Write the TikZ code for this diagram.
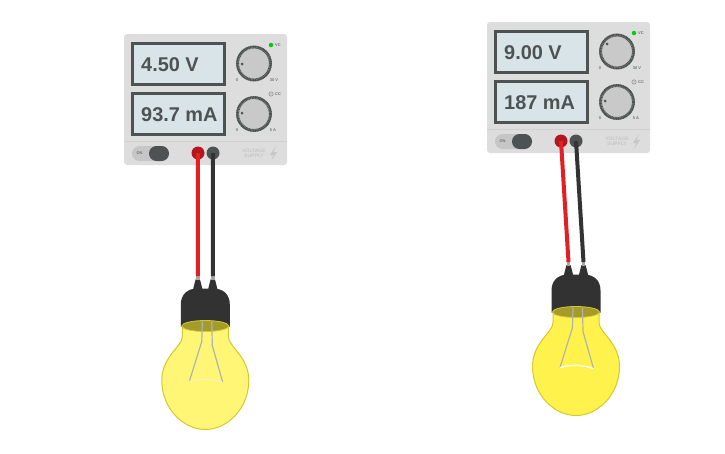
\documentclass[tikz,border=0pt]{standalone}
\usepackage{fontspec}
\setmainfont{Liberation Sans}
\pgfdeclarelayer{edgelayer}
\pgfdeclarelayer{nodelayer}
\pgfsetlayers{nodelayer,edgelayer,main}
\definecolor{panel}{HTML}{DDDDDD}
\definecolor{panelline}{HTML}{D0D0D0}
\definecolor{lcd}{HTML}{D9E4E8}
\definecolor{slate}{HTML}{4D5352}
\definecolor{faint}{HTML}{C6C6C6}
\definecolor{knobgrey}{HTML}{C9C9C9}
\definecolor{wirered}{HTML}{E02026}
\definecolor{wireblack}{HTML}{333333}
\definecolor{termred}{HTML}{B3161B}
\definecolor{socket}{HTML}{323232}
\definecolor{neck}{HTML}{A39C2A}
\definecolor{glassline}{HTML}{D8C62E}
\definecolor{glowlow}{HTML}{FFF676}
\definecolor{glowhigh}{HTML}{FFF24D}
\definecolor{arclow}{HTML}{FBF3B0}
\tikzstyle{none}=[inner sep=0pt]
\tikzstyle{display}=[draw=slate,fill=lcd,line width=3pt,inner sep=0pt,minimum width=92pt,minimum height=41pt]
\tikzstyle{reading}=[inner sep=0pt,anchor=base west,text=slate,font=\fontsize{19.9}{20}\selectfont\bfseries]
\tikzstyle{knob}=[circle,inner sep=0pt,minimum size=33pt,fill=knobgrey,preaction={draw=slate,line width=1.8pt,solid},draw=slate,line width=3pt,dash pattern=on 1.1pt off 0.5pt]
\tikzstyle{knobdot}=[circle,inner sep=0pt,minimum size=3pt,fill=slate]
\tikzstyle{tiny}=[inner sep=0pt,text=slate!80,font=\fontsize{4}{4}\selectfont\bfseries]
\tikzstyle{faded}=[inner sep=0pt,align=center,text=faint,font=\fontsize{5}{5.2}\selectfont\bfseries]
\tikzstyle{terminal}=[circle,inner sep=0pt,minimum size=13pt]
\tikzstyle{tip}=[fill=gray!70,inner sep=0pt,minimum width=3.5pt,minimum height=3.5pt]
\tikzstyle{wire}=[line width=4pt]

% #1 suffix, #2 #3 corner, #4 volts, #5 amps, #6 #7 dots
\newcommand{\supply}[7]{
	\begin{scope}[shift={(#2,#3)}]
		\fill [panel,rounded corners=3pt] (0,0) rectangle (163,131);
		\draw [panelline] (0,107) -- (163,107);
		\node [style=display] (dispv#1) at (54.5,30) {};
		\node [style=display] (dispa#1) at (54.5,80) {};
		\node [style=reading] (readv#1) at (17,37) {#4};
		\node [style=reading] (reada#1) at (17,87) {#5};
		\node [style=knob] (knobv#1) at (130,29.5) {};
		\node [style=knob] (knoba#1) at (130,80) {};
		\node [style=knobdot] (dotv#1) at #6 {};
		\node [style=knobdot] (dota#1) at #7 {};
		\node [circle,fill=green!80!black,inner sep=0pt,minimum size=4.5pt] (ledv#1) at (147,11) {};
		\node [circle,fill=knobgrey,draw=gray,line width=0.3pt,inner sep=0pt,minimum size=4.5pt] (leda#1) at (147,60) {};
		\node [style=tiny] (vc#1) at (154,11) {VC};
		\node [style=tiny] (cc#1) at (154,60) {CC};
		\node [style=tiny] (minv#1) at (113,46) {0};
		\node [style=tiny] (maxv#1) at (150,46) {30 V};
		\node [style=tiny] (mina#1) at (113,96) {0};
		\node [style=tiny] (maxa#1) at (149,96) {5 A};
		\node [fill=faint,rounded corners=7.4pt,inner sep=0pt,minimum width=37pt,minimum height=15pt] (pill#1) at (26.5,119.5) {};
		\node [fill=slate,rounded corners=7.4pt,inner sep=0pt,minimum width=20pt,minimum height=15pt] (knobon#1) at (35,119.5) {};
		\node [style=tiny] (on#1) at (15.5,119.5) {ON};
		\node [style=terminal,fill=termred] (red#1) at (74,119) {};
		\node [style=terminal,fill=slate] (black#1) at (89,119) {};
		\node [style=faded] (label#1) at (130,119) {VOLTAGE\\SUPPLY};
		\fill [faint] (152,112) -- (146,121) -- (149.5,121) -- (147,127) -- (153,118) -- (149.5,118) -- cycle;
	\end{scope}
}

% #1 suffix, #2 #3 top of the prongs, #4 glass, #5 arc
\newcommand{\lamp}[5]{
	\begin{scope}[shift={(#2,#3)}]
		\draw [fill=#4,draw=glassline,line width=1pt] (-23,46) -- (-23,58) .. controls (-23,68) and (-43.5,78) .. (-43.5,102) .. controls (-43.5,130) and (-22,151) .. (0,151) .. controls (22,151) and (43.5,130) .. (43.5,102) .. controls (43.5,78) and (23,68) .. (23,58) -- (23,46) -- cycle;
		\fill [socket] (-24.5,48) -- (-24.5,26) .. controls (-24.5,16) and (-18,10) .. (-8,10) -- (-12,10) -- (-10.5,4) -- (-9.5,0.5) -- (-5.5,0.5) -- (-4.5,4) -- (-3,10) -- (3,10) -- (4.5,4) -- (5.5,0.5) -- (9.5,0.5) -- (10.5,4) -- (12,10) -- (8,10) .. controls (18,10) and (24.5,16) .. (24.5,26) -- (24.5,48) -- cycle;
		\node [style=tip] (tipr#1) at (-7.5,-0.5) {};
		\node [style=tip] (tipb#1) at (7.5,-0.5) {};
		\draw [fill=neck,draw=glassline,line width=0.8pt] (0,47.5) ellipse [x radius=23.5pt,y radius=5.5pt];
		\draw [gray!60,line width=1.2pt] (-3,43) -- (-3.5,63) -- (-16,103);
		\draw [gray!60,line width=1.2pt] (6.5,43) -- (7,67) -- (17.5,104);
		\draw [#5,line width=1.3pt] (-16,103) .. controls (-6,100) and (6,100) .. (17.5,104);
	\end{scope}
}

\begin{document}
\begin{tikzpicture}[x=1pt,y=-1pt]
	\useasboundingbox (0,0) rectangle (725,453);
	\begin{pgfonlayer}{nodelayer}
		\supply{one}{124}{34}{4.50 V}{93.7 mA}{(118,30)}{(118,79)}
		\supply{two}{487}{22}{9.00 V}{187 mA}{(120,22)}{(118,79)}
		\lamp{one}{205.3}{278.5}{glowlow}{arclow}
		\lamp{two}{576}{264.5}{glowhigh}{white}
	\end{pgfonlayer}
	\begin{pgfonlayer}{edgelayer}
		\draw [style=wire,wirered] (redone.center) -- (tiprone.north);
		\draw [style=wire,wireblack] (blackone.center) -- (tipbone.north);
		\draw [style=wire,wirered] (redtwo.center) -- (tiprtwo.north);
		\draw [style=wire,wireblack] (blacktwo.center) -- (tipbtwo.north);
	\end{pgfonlayer}
\end{tikzpicture}
\end{document}
